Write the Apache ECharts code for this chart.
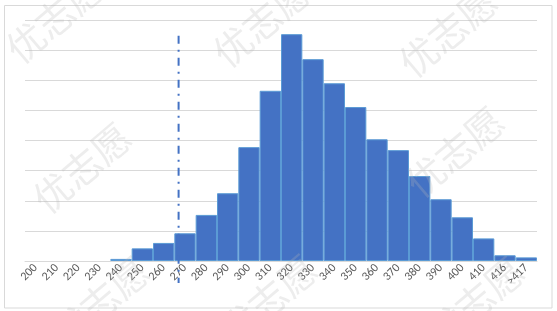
<!DOCTYPE html>
<html>
<head>
<meta charset="utf-8">
<script src="https://cdn.jsdelivr.net/npm/echarts@6/dist/echarts.min.js"></script>
<style>html,body{margin:0;padding:0;background:#fff;}#c{width:557px;height:311px;}</style>
</head>
<body>
<div id="c"></div>
<script>
const categories = ['200','210','220','230','240','250','260','270','280','290','300','310','320','330','340','350','360','370','380','390','400','410','416','>417'];
const counts = [0,0,0,0,0.7,4.2,6.0,9.2,15.3,22.5,37.8,56.5,75.3,67.0,59.0,51.1,40.4,36.8,28.2,20.5,14.5,7.5,1.9,1.2];
const markerPosition = 7.2;      // position along category axis (bin index units)
const markerRange = [74.75, -7.3];
const watermarkText = '优志愿';
const watermarkSpots = [[55,18],[262,22],[448,32],[82,168],[455,152],[100,302],[268,300],[475,302]];

const chart = echarts.init(document.getElementById('c'), null, {renderer:'canvas'});
const wm = watermarkSpots.map(p => ({
  type:'text', x:p[0], y:p[1], rotation:0.7, z:100, silent:true,
  style:{text:watermarkText, font:'38px "Noto Sans CJK SC"', fill:'rgba(185,185,185,0.25)', align:'center', verticalAlign:'middle'}
}));
chart.setOption({
  animation:false,
  grid:{left:25, right:20, top:20, bottom:50, containLabel:false},
  xAxis:[{
    type:'category', data:categories,
    axisLine:{lineStyle:{color:'#d9d9d9'}},
    axisTick:{show:false},
    axisLabel:{rotate:45, interval:0, margin:5, color:'#595959', fontSize:12, fontFamily:'Calibri, "Liberation Sans", sans-serif'}
  },{
    type:'value', min:0, max:categories.length, show:false
  }],
  yAxis:{type:'value', min:0, max:80, interval:10,
    axisLabel:{show:false}, axisLine:{show:false}, axisTick:{show:false},
    splitLine:{lineStyle:{color:'#d9d9d9', width:1}}
  },
  series:[{
    type:'bar', data:counts.map(v => v === 0 ? '-' : v), barCategoryGap:'0%', xAxisIndex:0,
    itemStyle:{color:'#4472C4', borderColor:'#5B9BD5', borderWidth:1}
  },{
    type:'line', xAxisIndex:1, clip:false, symbol:'none',
    data:[[markerPosition, markerRange[0]],[markerPosition, markerRange[1]]],
    lineStyle:{color:'#4472C4', width:2, type:[8,6,2,6]}, z:5
  }],
  graphic:[{
    type:'rect', shape:{x:4.5, y:5.5, width:547.5, height:302.5}, silent:true,
    style:{fill:'none', stroke:'#d9d9d9', lineWidth:1}
  }].concat(wm)
});
</script>
</body>
</html>
